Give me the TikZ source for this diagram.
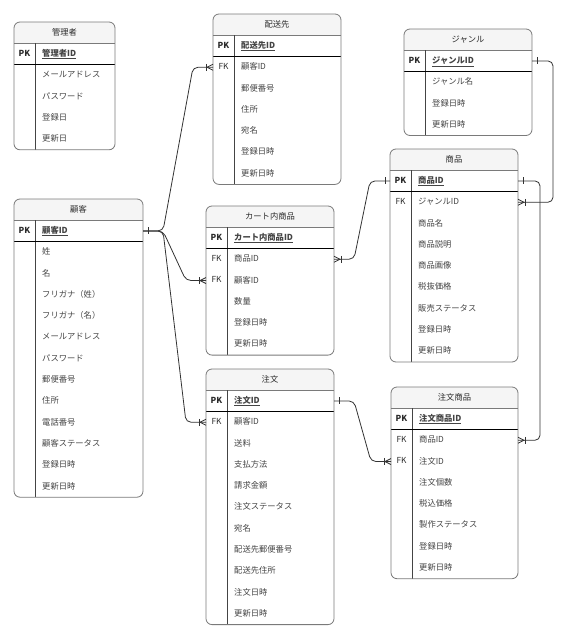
\documentclass[tikz,border=0pt]{standalone}
\usepackage{fontspec}
\setmainfont{Noto Sans CJK JP}
\usetikzlibrary{calc}
\definecolor{framegray}{HTML}{7A7A7A}
\definecolor{hdrfill}{HTML}{F5F5F5}
\definecolor{txtdark}{HTML}{2B2B2B}
\definecolor{txtfield}{HTML}{444444}
\definecolor{relcol}{HTML}{333333}
\def\ertrh{21.3}
\def\keylabp{\textbf{PK}}\def\keylabf{FK}\def\keylabn{}
\def\fmtp#1{\textbf{\underline{#1}}}\def\fmtf#1{#1}\def\fmtn#1{#1}
\tikzset{
  rowbox/.style={minimum height=21.3pt, inner sep=0pt, outer sep=0pt, anchor=north west},
  keytext/.style={font=\fontsize{8.3}{10}\selectfont, text=txtdark, inner sep=0pt, text height=6.2pt, text depth=1.6pt},
  fieldtext/.style={font=\fontsize{8.3}{10}\selectfont, text=txtfield, inner sep=0pt, anchor=west, text height=6.6pt, text depth=1.6pt},
  titletext/.style={font=\fontsize{8.3}{10}\selectfont, text=txtdark, inner sep=0pt, text height=6.6pt, text depth=1.6pt},
  frame/.style={draw=framegray, line width=0.8pt, rounded corners=6pt},
  hdrline/.style={draw=framegray, line width=0.7pt},
  pkline/.style={draw=black, line width=0.9pt},
  colline/.style={draw=txtfield, line width=0.7pt},
  rel/.style={draw=relcol, line width=0.8pt, rounded corners=5pt},
  relmark/.style={draw=relcol, line width=0.8pt},
}
% #1 id, #2 x, #3 y, #4 width, #5 title, #6 rows incl. header, #7 rows
\newcommand{\ertable}[7]{%
  \pgfmathsetmacro{\ertbot}{#3+#6*\ertrh}%
  \fill[white, rounded corners=6pt] (#2,#3) rectangle (#2+#4,\ertbot);
  \begin{scope}
    \clip[rounded corners=6pt] (#2,#3) rectangle (#2+#4,\ertbot);
    \fill[hdrfill] (#2,#3) rectangle (#2+#4,#3+\ertrh);
  \end{scope}
  \draw[hdrline] (#2,#3+\ertrh) -- (#2+#4,#3+\ertrh);
  \draw[colline] (#2+21,#3+\ertrh) -- (#2+21,\ertbot);
  \draw[pkline] (#2,#3+2*\ertrh) -- (#2+#4,#3+2*\ertrh);
  \draw[frame] (#2,#3) rectangle (#2+#4,\ertbot);
  \node[titletext] (#1-0) at (#2+#4/2,#3+\ertrh/2) {#5};
  \foreach \erkind/\ertxt [count=\eri] in {#7} {
    \node[rowbox, minimum width=#4pt] (#1-\eri) at (#2,#3+\eri*\ertrh) {};
    \node[keytext] (#1-k\eri) at (#2+10.5,#3+\eri*\ertrh+\ertrh/2) {\csname keylab\erkind\endcsname};
    \node[fieldtext] (#1-t\eri) at (#2+28,#3+\eri*\ertrh+\ertrh/2) {\csname fmt\erkind\endcsname{\ertxt}};
  }
}
\newcommand{\onetick}[2]{\draw[relmark] ($(#1)+(#2*5,-3.5)$) -- ($(#1)+(#2*5,3.5)$);}
\newcommand{\manymark}[2]{%
  \draw[relmark] ($(#1)+(0,-3)$) -- ($(#1)+(#2*6,0)$) -- ($(#1)+(0,3)$);
  \draw[relmark] ($(#1)+(#2*7,-3.5)$) -- ($(#1)+(#2*7,3.5)$);
}
\begin{document}
\begin{tikzpicture}[x=1pt, y=-1pt]
\useasboundingbox (0,0) rectangle (575,640);
\fill[white] (0,0) rectangle (575,640);

\ertable{kanri}{14}{22}{101}{管理者}{6}{p/管理者ID, n/メールアドレス, n/パスワード, n/登録日, n/更新日}
\ertable{haiso}{213}{14}{128}{配送先}{8}{p/配送先ID, f/顧客ID, n/郵便番号, n/住所, n/宛名, n/登録日時, n/更新日時}
\ertable{genre}{404}{29}{128}{ジャンル}{5}{p/ジャンルID, n/ジャンル名, n/登録日時, n/更新日時}
\ertable{shohin}{390}{149}{128}{商品}{10}{p/商品ID, f/ジャンルID, n/商品名, n/商品説明, n/商品画像, n/税抜価格, n/販売ステータス, n/登録日時, n/更新日時}
\ertable{kokyaku}{14}{199}{129}{顧客}{14}{p/顧客ID, n/姓, n/名, n/フリガナ（姓）, n/フリガナ（名）, n/メールアドレス, n/パスワード, n/郵便番号, n/住所, n/電話番号, n/顧客ステータス, n/登録日時, n/更新日時}
\ertable{cart}{206}{206}{128}{カート内商品}{7}{p/カート内商品ID, f/商品ID, f/顧客ID, n/数量, n/登録日時, n/更新日時}
\ertable{chumon}{206}{369}{128}{注文}{12}{p/注文ID, f/顧客ID, n/送料, n/支払方法, n/請求金額, n/注文ステータス, n/宛名, n/配送先郵便番号, n/配送先住所, n/注文日時, n/更新日時}
\ertable{chumonshohin}{391}{387}{127}{注文商品}{9}{p/注文商品ID, f/商品ID, f/注文ID, n/注文個数, n/税込価格, n/製作ステータス, n/登録日時, n/更新日時}

% relations
\draw[rel] (kokyaku-1.east) -- ++(20,0) -- ($(haiso-2.west)+(-20,0)$) -- (haiso-2.west);
\draw[rel] (kokyaku-1.east) -- ++(20,0) -- ($(cart-3.west)+(-20,0)$) -- (cart-3.west);
\draw[rel] (kokyaku-1.east) -- ++(20,0) -- ($(chumon-2.west)+(-20,0)$) -- (chumon-2.west);
\draw[rel] (shohin-1.west) -- ++(-20,0) -- ($(cart-2.east)+(20,0)$) -- (cart-2.east);
\draw[rel] (chumon-1.east) -- ++(20,0) -- ($(chumonshohin-3.west)+(-20,0)$) -- (chumonshohin-3.west);
\draw[rel] (shohin-1.east) -- ++(22,0) |- (chumonshohin-2.east);
\draw[rel] (genre-1.east) -- ++(21,0) |- (shohin-2.east);

\onetick{kokyaku-1.east}{1}
\onetick{shohin-1.west}{-1}
\onetick{shohin-1.east}{1}
\onetick{chumon-1.east}{1}
\onetick{genre-1.east}{1}
\manymark{haiso-2.west}{-1}
\manymark{cart-3.west}{-1}
\manymark{chumon-2.west}{-1}
\manymark{cart-2.east}{1}
\manymark{chumonshohin-3.west}{-1}
\manymark{chumonshohin-2.east}{1}
\manymark{shohin-2.east}{1}
\end{tikzpicture}
\end{document}
